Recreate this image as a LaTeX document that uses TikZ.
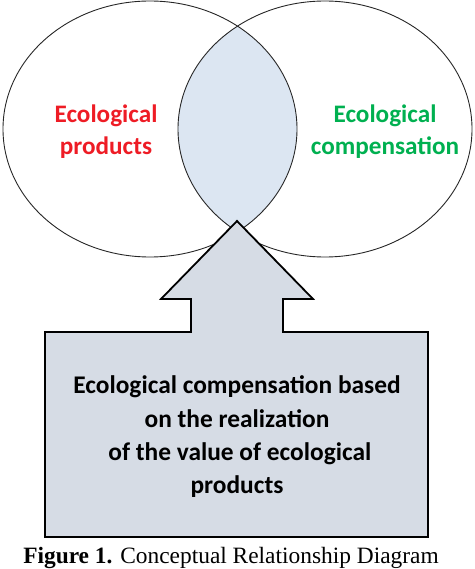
\documentclass[tikz,border=0pt]{standalone}
\usepackage{fontspec}
\setmainfont{Liberation Serif}
\newfontfamily\calib{Carlito}
\usepackage{tikz}
\usetikzlibrary{positioning,calc}
\definecolor{lensblue}{HTML}{DCE6F2}
\definecolor{arrowgray}{HTML}{D6DCE5}
\definecolor{prodred}{HTML}{EE1C25}
\definecolor{compgreen}{HTML}{00B050}
\tikzset{
  setline/.style={draw=black!85,line width=0.9pt},
  lbl/.style={font=\calib\bfseries\fontsize{25.2}{32}\selectfont,align=center},
  boxtext/.style={font=\calib\bfseries\fontsize{25.4}{33.3}\selectfont,align=center}
}

\begin{document}
\begin{tikzpicture}[x=1pt,y=-1pt]
            \useasboundingbox (0,0) rectangle (474,569);
            % the two sets
            \coordinate (lc) at (150,129);
            \coordinate (rc) at (325,129);
            \begin{scope}
                \clip (lc) ellipse [x radius=147,y radius=128];
                \fill[lensblue] (rc) ellipse [x radius=147,y radius=128];
            \end{scope}
            \draw[setline] (lc) ellipse [x radius=147,y radius=128];
            \draw[setline] (rc) ellipse [x radius=147,y radius=128];
            \node[lbl,text=prodred] (prod) at (106,132) {Ecological\\products};
            \node[lbl,text=compgreen] (comp) at (385,132) {Ecological\\compensation};
            % the block arrow
            \draw[line width=1.8pt,fill=arrowgray,line join=miter]
                (237,221) -- (313,299) -- (283,299) -- (283,332) -- (428,332)
                -- (428,537) -- (45,537) -- (45,332) -- (191,332) -- (191,299)
                -- (161,299) -- cycle;
            \node[boxtext] (basis) at (237,437) {Ecological compensation based\\on the realization\\\ of the value of ecological\\products};
            % caption
            \node[font=\fontsize{23.4}{26}\selectfont,anchor=base,inner sep=0pt] (cap) at (231,563.5) {\textbf{Figure 1.} Conceptual Relationship Diagram};
        \end{tikzpicture}
\end{document}
